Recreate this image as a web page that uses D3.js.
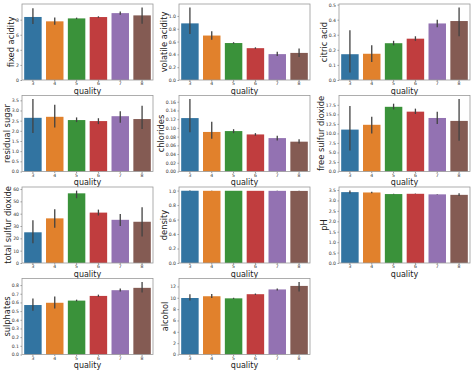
<!DOCTYPE html>
<html>
<head>
<meta charset="utf-8">
<script src="https://cdn.jsdelivr.net/npm/d3@7"></script>
<style>
  body { margin: 0; background: #fff; }
  text { font-family: "DejaVu Sans", sans-serif; }
</style>
</head>
<body>
<div id="chart"></div>
<script>
// Categories
const qualities = ['3', '4', '5', '6', '7', '8'];
const features = ['fixed acidity', 'volatile acidity', 'citric acid', 'residual sugar',
  'chlorides', 'free sulfur dioxide', 'total sulfur dioxide', 'density', 'pH',
  'sulphates', 'alcohol'];

// Mean value per quality, one row per feature
const meanValues = [
  [8.36, 7.78, 8.17, 8.35, 8.87, 8.57],
  [0.884, 0.694, 0.577, 0.497, 0.404, 0.423],
  [0.171, 0.174, 0.244, 0.274, 0.375, 0.391],
  [2.64, 2.69, 2.53, 2.48, 2.72, 2.58],
  [0.1225, 0.0907, 0.0927, 0.0850, 0.0766, 0.0684],
  [11.0, 12.26, 16.98, 15.71, 14.05, 13.28],
  [24.9, 36.2, 56.5, 40.87, 35.02, 33.44],
  [0.9975, 0.9965, 0.9971, 0.9966, 0.9961, 0.9952],
  [3.398, 3.381, 3.305, 3.318, 3.291, 3.267],
  [0.570, 0.596, 0.621, 0.675, 0.741, 0.768],
  [9.96, 10.27, 9.90, 10.63, 11.47, 12.09]
];

// Error bar low / high ends
const ciLow = [
  [7.43, 7.34, 8.08, 8.26, 8.65, 7.45],
  [0.72, 0.63, 0.565, 0.485, 0.375, 0.36],
  [0.05, 0.12, 0.23, 0.26, 0.35, 0.29],
  [1.89, 2.17, 2.43, 2.33, 2.40, 2.09],
  [0.09, 0.075, 0.088, 0.082, 0.071, 0.064],
  [5.5, 10.0, 16.3, 15.1, 12.5, 8.1],
  [16.0, 28.5, 52.5, 38.5, 30.0, 21.5],
  [0.9955, 0.9955, 0.9969, 0.9964, 0.9957, 0.9943],
  [3.33, 3.34, 3.29, 3.31, 3.28, 3.21],
  [0.504, 0.53, 0.612, 0.665, 0.725, 0.713],
  [9.5, 9.95, 9.8, 10.5, 11.3, 11.12]
];
const ciHigh = [
  [9.53, 8.30, 8.27, 8.45, 9.10, 9.60],
  [1.13, 0.76, 0.59, 0.51, 0.44, 0.49],
  [0.33, 0.23, 0.26, 0.29, 0.40, 0.48],
  [3.56, 3.28, 2.66, 2.62, 2.96, 3.23],
  [0.166, 0.114, 0.097, 0.088, 0.082, 0.074],
  [17.2, 14.4, 17.8, 16.5, 15.7, 19.0],
  [34.7, 43.5, 58.7, 43.3, 39.8, 45.3],
  [0.9993, 0.9975, 0.9973, 0.9968, 0.9965, 0.9961],
  [3.47, 3.42, 3.32, 3.33, 3.31, 3.34],
  [0.645, 0.667, 0.632, 0.69, 0.76, 0.834],
  [10.6, 10.65, 10.0, 10.75, 11.65, 12.76]
];

// Y tick values and their decimals
const yTicks = [
  [0, 2, 4, 6, 8],
  [0, 0.2, 0.4, 0.6, 0.8, 1.0],
  [0, 0.1, 0.2, 0.3, 0.4, 0.5],
  [0, 0.5, 1, 1.5, 2, 2.5, 3, 3.5],
  [0, 0.02, 0.04, 0.06, 0.08, 0.10, 0.12, 0.14, 0.16],
  [0, 2.5, 5, 7.5, 10, 12.5, 15, 17.5],
  [0, 10, 20, 30, 40, 50, 60],
  [0, 0.2, 0.4, 0.6, 0.8, 1.0],
  [0, 0.5, 1, 1.5, 2, 2.5, 3, 3.5],
  [0, 0.1, 0.2, 0.3, 0.4, 0.5, 0.6, 0.7, 0.8],
  [0, 2, 4, 6, 8, 10, 12]
];
const yDecimals = [0, 1, 1, 1, 2, 1, 0, 1, 1, 1, 0];

const colors = ['#3274a1', '#e1812c', '#3a923a', '#c03d3e', '#9372b2', '#845b53'];

// Grid layout
const width = 474;
const height = 373;
const colLeft = [22, 179, 339];
const rowTop = [4, 95.5, 187, 278.5];
const panelW = 131;
const panelH = 76;

const svg = d3.select('#chart')
  .append('svg')
  .attr('width', width)
  .attr('height', height);

svg.append('rect')
  .attr('width', width)
  .attr('height', height)
  .attr('fill', '#fff');

features.forEach((name, k) => {
  const left = colLeft[k % 3];
  const top = rowTop[Math.floor(k / 3)];

  const g = svg.append('g')
    .attr('transform', `translate(${left},${top})`);

  const x = d3.scaleBand()
    .domain(qualities)
    .range([0, panelW])
    .paddingInner(0.2)
    .paddingOuter(0.1);

  const yMax = d3.max(ciHigh[k]) * 1.05;
  const y = d3.scaleLinear()
    .domain([0, yMax])
    .range([panelH, 0]);

  // Bars
  g.selectAll('rect.bar')
    .data(meanValues[k])
    .enter()
    .append('rect')
    .attr('class', 'bar')
    .attr('x', (d, i) => x(qualities[i]))
    .attr('y', d => y(d))
    .attr('width', x.bandwidth())
    .attr('height', d => panelH - y(d))
    .attr('fill', (d, i) => colors[i]);

  // Error bars
  g.selectAll('line.err')
    .data(qualities)
    .enter()
    .append('line')
    .attr('class', 'err')
    .attr('x1', d => x(d) + x.bandwidth() / 2)
    .attr('x2', d => x(d) + x.bandwidth() / 2)
    .attr('y1', (d, i) => y(ciLow[k][i]))
    .attr('y2', (d, i) => y(ciHigh[k][i]))
    .attr('stroke', '#424242')
    .attr('stroke-width', 1.3);

  // Axes
  const xAxis = g.append('g')
    .attr('transform', `translate(0,${panelH})`)
    .call(d3.axisBottom(x).tickSize(1.5).tickPadding(0.5));

  const yAxis = g.append('g')
    .call(d3.axisLeft(y)
      .tickValues(yTicks[k])
      .tickFormat(d3.format(`.${yDecimals[k]}f`))
      .tickSize(1.5)
      .tickPadding(1.5));

  [xAxis, yAxis].forEach(ax => {
    ax.select('.domain').remove();
    ax.selectAll('.tick line').attr('stroke', '#555').attr('stroke-width', 0.6);
    ax.selectAll('.tick text')
      .attr('font-size', 4.6)
      .attr('fill', '#333')
      .style('font-family', '"DejaVu Sans", sans-serif');
  });

  // Frame
  g.append('rect')
    .attr('width', panelW)
    .attr('height', panelH)
    .attr('fill', 'none')
    .attr('stroke', '#999')
    .attr('stroke-width', 0.8);

  // Labels
  g.append('text')
    .attr('x', panelW / 2)
    .attr('y', panelH + 13.5)
    .attr('text-anchor', 'middle')
    .attr('font-size', 8)
    .attr('fill', '#222')
    .text('quality');

  const tickBox = yAxis.node().getBBox();
  g.append('text')
    .attr('transform', `translate(${tickBox.x - 2},${panelH / 2}) rotate(-90)`)
    .attr('text-anchor', 'middle')
    .attr('font-size', 8.3)
    .attr('fill', '#222')
    .text(name);
});
</script>
</body>
</html>
